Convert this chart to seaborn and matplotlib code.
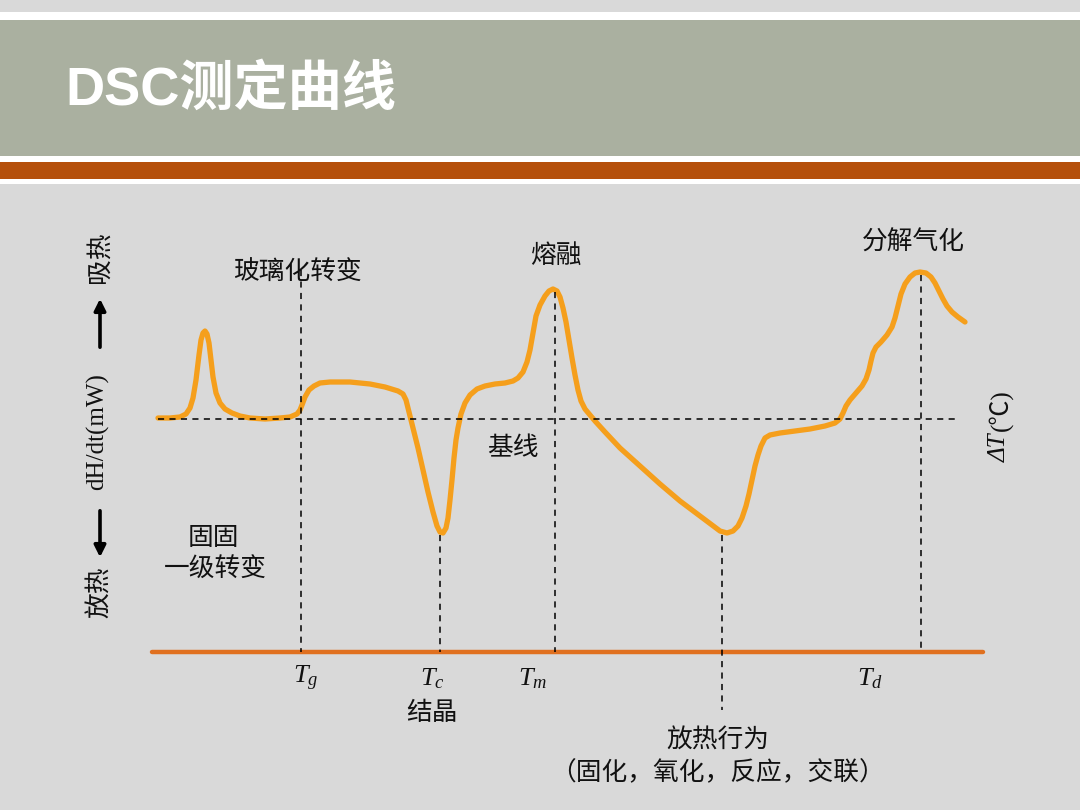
import numpy as np
import pandas as pd
import seaborn as sns
import matplotlib.pyplot as plt
from matplotlib.patches import Rectangle

# curve: temperature axis (x) and heat flow relative to baseline (y, + = endothermic)
temp_x = [158, 170, 180, 186, 190, 193, 196, 199, 201, 203, 205, 207, 209, 211, 213, 216, 220, 225,
          232, 240, 250, 265, 280, 290, 297, 300, 302, 305, 309, 314, 320, 330, 350, 370, 385, 398,
          403, 406, 409, 413, 418, 423, 428, 433, 437, 440, 443, 446, 448, 450, 452, 454, 456, 458,
          461, 465, 470, 477, 485, 495, 505, 513, 518, 523, 527, 530, 533, 536, 540, 545, 549, 553,
          557, 560, 563, 566, 569, 572, 575, 578, 581, 585, 590, 595, 605, 620, 640, 660, 680, 700,
          712, 720, 727, 733, 738, 742, 746, 749, 752, 755, 758, 761, 765, 770, 780, 795, 810, 825,
          835, 840, 843, 846, 850, 856, 862, 866, 869, 871, 873, 876, 881, 887, 892, 895, 898, 901,
          905, 910, 915, 920, 926, 931, 935, 939, 943, 947, 952, 958, 965]
heat_y = [1, 1, 2, 5, 11, 21, 39, 64, 79, 86, 88, 85, 76, 59, 42, 26, 16, 10,
          6, 3, 1, 0, 1, 2, 5, 9, 14, 22, 29, 33, 36, 37, 37, 35, 32, 28,
          25, 19, 7, -9, -29, -51, -73, -93, -107, -113, -114, -109, -99, -81, -61, -39, -21, -9,
          5, 16, 24, 30, 33, 35, 36, 38, 41, 47, 57, 69, 86, 103, 114, 123, 128, 130,
          128, 122, 111, 97, 79, 61, 44, 29, 18, 10, 4, -2, -13, -29, -47, -65, -82, -97,
          -106, -112, -114, -112, -107, -99, -87, -75, -61, -47, -36, -27, -19, -16, -14, -12, -10, -7,
          -4, 0, 6, 13, 19, 26, 33, 40, 49, 58, 66, 72, 77, 84, 92, 101, 113, 125,
          135, 142, 146, 147, 146, 142, 136, 128, 120, 113, 107, 102, 97]

baseline_x = [158, 958]
axis_x = [152, 983]
axis_level = -233

# dashed marker lines: position, top, bottom
mark_names = ['Tg', 'Tc', 'Tm', 'Texo', 'Td']
mark_x = [301, 440, 555, 722, 921]
mark_top = [149, -116, 127, -116, 144]
mark_bottom = [-233, -233, -233, -291, -233]

plt.rcParams['mathtext.fontset'] = 'custom'
plt.rcParams['mathtext.it'] = 'Liberation Serif:italic'
plt.rcParams['mathtext.rm'] = 'Liberation Serif'
sns.set_style('white')
plt.rcParams['font.family'] = ['Noto Sans CJK SC', 'DejaVu Sans']

bg = '#d9d9d9'
fig = plt.figure(figsize=(10.8, 8.1), dpi=100, facecolor=bg)

# header bands (pixel rows from top)
bands = [(12, 20, 'white'), (20, 156, '#aab0a0'), (156, 162, 'white'),
         (162, 179, '#b5500b'), (179, 184, 'white')]
for y0, y1, c in bands:
    fig.add_artist(Rectangle((0, 1 - y1 / 810), 1, (y1 - y0) / 810,
                             transform=fig.transFigure, color=c, lw=0))
fig.text(65 / 1080, 1 - 90 / 810, 'DSC测定曲线', color='white', fontsize=39, fontweight='bold',
         va='center', ha='left', family=['Liberation Sans', 'Noto Sans CJK SC'])

ax = fig.add_axes([0, 0, 1, 1])
ax.set_facecolor('none')
ax.set_xlim(0, 1080)
ax.set_ylim(419 - 810, 419)
ax.axis('off')

curve = pd.DataFrame({'T': temp_x, 'H': heat_y})
sns.lineplot(data=curve, x='T', y='H', sort=False, estimator=None, color='#f59f1c',
             linewidth=3.8, ax=ax, solid_capstyle='round', solid_joinstyle='round')

sns.lineplot(x=baseline_x, y=[0, 0], color='black', linewidth=1.1, ax=ax,
             linestyle=(0, (4, 3.5)))
sns.lineplot(x=axis_x, y=[axis_level, axis_level], color='#e0701f', linewidth=3.2, ax=ax)

for mx, mt, mb in zip(mark_x, mark_top, mark_bottom):
    ax.plot([mx, mx], [mt, mb], color='black', linewidth=1.1, linestyle=(0, (4, 3.5)))

def lab(x, y, s, size=18.5, **kw):
    ax.text(x, 419 - y, s, fontsize=size, ha='center', va='center', color='#111111', **kw)

lab(298, 273, '玻璃化转变')
lab(556, 256, '熔融')
lab(913, 243, '分解气化')
lab(513, 448, '基线')
lab(213, 538, '固固')
lab(215, 570, '一级转变')
lab(432, 713, '结晶')
lab(718, 741, '放热行为')
lab(718, 773, '（固化，氧化，反应，交联）')

lab(306, 678, r'$T_g$', size=19)
lab(432, 678, r'$T_c$', size=19)
lab(533, 678, r'$T_m$', size=19)
lab(870, 678, r'$T_d$', size=19)

# left axis label
lab(100, 257, '吸热', rotation=90)
lab(98, 432, 'dH/dt(mW)', size=18, rotation=90, family=['Liberation Serif'])
lab(100, 592, '放热', rotation=90)
ax.annotate('', xy=(100, 419 - 296), xytext=(100, 419 - 350),
            arrowprops=dict(arrowstyle='-|>', color='black', lw=2.6, mutation_scale=17))
ax.annotate('', xy=(100, 419 - 560), xytext=(100, 419 - 508),
            arrowprops=dict(arrowstyle='-|>', color='black', lw=2.6, mutation_scale=17))

# right axis label
lab(1000, 448, 'ΔT', size=18, rotation=90, family=['Liberation Serif'], style='italic')
lab(1000, 410, '(℃)', size=18, rotation=90, family=['Liberation Serif', 'Noto Sans CJK SC'])

fig.savefig('out.png', dpi=100, facecolor=bg)
